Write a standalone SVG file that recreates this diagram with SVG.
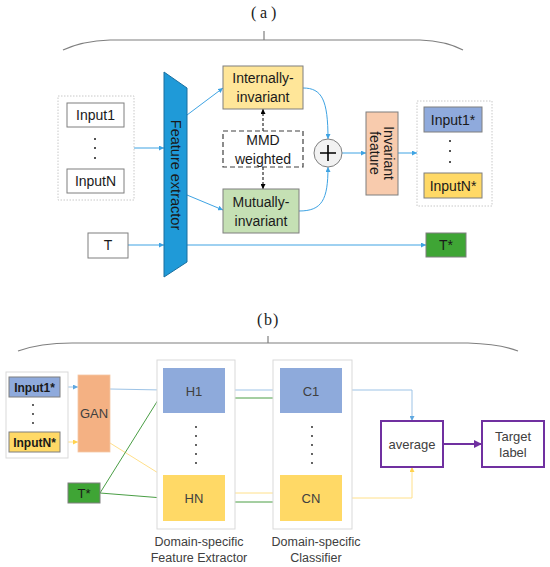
<svg xmlns="http://www.w3.org/2000/svg" width="550" height="567" viewBox="0 0 550 567">
<defs>
<marker id="mb" viewBox="0 0 6 6" refX="6" refY="3" markerWidth="5" markerHeight="5" markerUnits="userSpaceOnUse" orient="auto"><path d="M0,0 L6,3 L0,6 Z" fill="#3ea3e3"/></marker>
<marker id="mk" viewBox="0 0 6 6" refX="6" refY="3" markerWidth="5" markerHeight="5" markerUnits="userSpaceOnUse" orient="auto"><path d="M0,0 L6,3 L0,6 Z" fill="#000"/></marker>
<marker id="mlb" viewBox="0 0 6 6" refX="6" refY="3" markerWidth="5" markerHeight="5" markerUnits="userSpaceOnUse" orient="auto"><path d="M0,0 L6,3 L0,6 Z" fill="#5fa8e0"/></marker>
<marker id="my" viewBox="0 0 6 6" refX="6" refY="3" markerWidth="5" markerHeight="5" markerUnits="userSpaceOnUse" orient="auto"><path d="M0,0 L6,3 L0,6 Z" fill="#ffd24d"/></marker>
<marker id="mg" viewBox="0 0 6 6" refX="6" refY="3" markerWidth="5" markerHeight="5" markerUnits="userSpaceOnUse" orient="auto"><path d="M0,0 L6,3 L0,6 Z" fill="#3c9a3c"/></marker>
<marker id="mp" viewBox="0 0 6 6" refX="6" refY="3" markerWidth="8" markerHeight="8" markerUnits="userSpaceOnUse" orient="auto"><path d="M0,0 L6,3 L0,6 Z" fill="#7030a0"/></marker>
</defs>
<style>
text{font-family:"Liberation Sans","Noto Sans",sans-serif;fill:#1a1a1a;text-anchor:middle}
.t14{font-size:14px}
.t13{font-size:13px}
.t12{font-size:12px}
.ttl{font-family:"Liberation Serif",serif;font-size:16px;text-anchor:start}
.lbl{font-size:12.5px;fill:#404040}
.box{stroke:#7f7f7f;stroke-width:1}
.grp{fill:#fff;stroke:#d9d9d9;stroke-width:1}
.dgrp{fill:#fff;stroke:#c8c8c8;stroke-width:1;stroke-dasharray:1.5,1.5}
.ab{fill:none;stroke:#3ea3e3;stroke-width:1}
.lb{fill:none;stroke:#9dc3e6;stroke-width:1}
.ly{fill:none;stroke:#ffe08a;stroke-width:1}
.lg{fill:none;stroke:#4a9e45;stroke-width:1}
.brace{fill:none;stroke:#7f7f7f;stroke-width:1.2}
.dot{fill:#1a1a1a}
</style>

<g id="titles">
<text class="ttl" x="251 260 271" y="18">(a)</text>
<path class="brace" d="M63,50 Q82,41 110,40 L420,40 Q446,41 463,50"/>
<path class="brace" d="M264,31 L264,40"/>
<text class="ttl" x="257 264 273" y="325">(b)</text>
<path class="brace" d="M18,351 Q40,343 72,343 L468,343 Q500,344 518,351"/>
<path class="brace" d="M268,336 L268,343"/>
</g>

<g id="connectors">
<line class="ab" x1="134" y1="148" x2="164" y2="148" marker-end="url(#mb)"/>
<line class="ab" x1="128" y1="245" x2="164" y2="245" marker-end="url(#mb)"/>
<line class="ab" x1="187" y1="245" x2="426" y2="245" marker-end="url(#mb)"/>
<line class="ab" x1="187" y1="115" x2="223" y2="88" marker-end="url(#mb)"/>
<line class="ab" x1="187" y1="195" x2="223" y2="210" marker-end="url(#mb)"/>
<path class="ab" d="M303,88 C322,88 328,100 328,139" marker-end="url(#mb)"/>
<path class="ab" d="M299,211 C322,211 328,200 328,167" marker-end="url(#mb)"/>
<line class="ab" x1="342" y1="153" x2="366" y2="153" marker-end="url(#mb)"/>
<line class="ab" x1="398" y1="153" x2="417" y2="153" marker-end="url(#mb)"/>
<line x1="263" y1="131" x2="263" y2="109" stroke="#000" stroke-width="1" stroke-dasharray="3,2" marker-end="url(#mk)"/>
<line x1="263" y1="167" x2="263" y2="189" stroke="#000" stroke-width="1" stroke-dasharray="3,2" marker-end="url(#mk)"/>

<line class="lb" x1="60" y1="387" x2="78" y2="387" marker-end="url(#mlb)"/>
<line class="ly" x1="60" y1="442" x2="78" y2="442" marker-end="url(#my)"/>
<line class="lb" x1="110" y1="389" x2="163" y2="390" marker-end="url(#mlb)"/>
<line class="ly" x1="110" y1="443" x2="163" y2="476" marker-end="url(#my)"/>
<line class="lg" x1="100" y1="493" x2="163" y2="392" marker-end="url(#mg)"/>
<line class="lg" x1="100" y1="493" x2="163" y2="498" marker-end="url(#mg)"/>
<line class="lb" x1="225" y1="390" x2="280" y2="390" marker-end="url(#mlb)"/>
<line class="lg" x1="225" y1="398" x2="280" y2="398" marker-end="url(#mg)"/>
<line class="ly" x1="225" y1="493" x2="280" y2="493" marker-end="url(#my)"/>
<line class="lg" x1="225" y1="502" x2="280" y2="502" marker-end="url(#mg)"/>
<path class="lb" d="M342,390 L412,390 L412,421" marker-end="url(#mlb)"/>
<path class="ly" d="M342,498 L412,498 L412,467" marker-end="url(#my)"/>
<line x1="443" y1="444" x2="482" y2="444" stroke="#7030a0" stroke-width="2" marker-end="url(#mp)"/>
</g>

<g id="inputs-a">
<rect class="dgrp" x="58" y="96" width="76" height="104"/>
<rect class="box" x="67" y="103" width="57" height="24" fill="#fff"/>
<text class="t14" x="95.5" y="120">Input1</text>
<circle class="dot" cx="95" cy="139" r="1"/><circle class="dot" cx="95" cy="148" r="1"/><circle class="dot" cx="95" cy="158" r="1"/>
<rect class="box" x="67" y="169" width="57" height="24" fill="#fff"/>
<text class="t14" x="95.5" y="186">InputN</text>
</g>
<g id="T">
<rect class="box" x="88" y="233" width="40" height="25" fill="#fff"/>
<text class="t14" x="108" y="250">T</text>
</g>
<g id="feature-extractor">
<path d="M164,72 L187,88 L187,262 L164,277 Z" fill="#1f9ad8" stroke="#1a6f9f" stroke-width="1"/>
<text transform="translate(176,175) rotate(90)" x="0" y="5" style="font-size:14.5px">Feature extractor</text>
</g>
<g id="internally">
<rect class="box" x="223" y="66" width="80" height="43" fill="#ffe699"/>
<text class="t14" x="263" y="83">Internally-</text>
<text class="t14" x="263" y="102">invariant</text>
</g>
<g id="mmd">
<rect x="223" y="131" width="80" height="36" fill="#fff" stroke="#404040" stroke-width="1.2" stroke-dasharray="5,3"/>
<text class="t14" x="263" y="145">MMD</text>
<text class="t14" x="263" y="164">weighted</text>
</g>
<g id="mutually">
<rect class="box" x="223" y="189" width="76" height="44" fill="#c5e0b4"/>
<text class="t14" x="261" y="207">Mutually-</text>
<text class="t14" x="261" y="226">invariant</text>
</g>
<g id="plus">
<circle cx="328" cy="153" r="14" fill="#f2f2f2" stroke="#7f7f7f" stroke-width="1"/>
<path d="M320,153 L336,153 M328,145 L328,161" stroke="#000" stroke-width="1.6"/>
</g>
<g id="invariant-feature">
<rect class="box" x="366" y="112" width="32" height="83" fill="#f8cbad"/>
<g transform="translate(382,153) rotate(90)">
<text class="t14" x="0" y="-2">Invariant</text>
<text class="t14" x="0" y="12">feature</text>
</g>
</g>
<g id="outputs-a">
<rect class="dgrp" x="417" y="101" width="75" height="105"/>
<rect class="box" x="424" y="107" width="58" height="25" fill="#8faadc"/>
<text class="t14" x="453" y="124.5">Input1*</text>
<circle class="dot" cx="450" cy="141" r="1"/><circle class="dot" cx="450" cy="151" r="1"/><circle class="dot" cx="450" cy="162" r="1"/>
<rect class="box" x="424" y="173" width="58" height="25" fill="#ffd966"/>
<text class="t14" x="453" y="190.5">InputN*</text>
</g>
<g id="Tstar-a">
<rect class="box" x="426" y="233" width="40" height="24" fill="#3fa535"/>
<text class="t14" x="446" y="250">T*</text>
</g>

<g id="inputs-b">
<rect class="grp" x="6" y="372" width="62" height="86"/>
<rect class="box" x="9" y="377" width="51" height="20" fill="#8faadc"/>
<text class="t12" x="34.5" y="391.5" font-weight="bold">Input1*</text>
<circle class="dot" cx="33" cy="405" r="0.9"/><circle class="dot" cx="33" cy="414" r="0.9"/><circle class="dot" cx="33" cy="423" r="0.9"/>
<rect class="box" x="9" y="432" width="51" height="20" fill="#ffd966"/>
<text class="t12" x="34.5" y="446.5" font-weight="bold">InputN*</text>
</g>
<g id="gan">
<rect x="78" y="375" width="32" height="77" fill="#f4b183" stroke="#f4c7a5" stroke-width="0.8"/>
<text class="t13" x="94" y="418" style="fill:#404040">GAN</text>
</g>
<g id="Tstar-b">
<rect class="box" x="68" y="483" width="32" height="20" fill="#3fa535"/>
<text class="t13" x="84" y="497.5">T*</text>
</g>
<g id="feature-extractors">
<rect class="grp" x="157" y="360" width="78" height="169"/>
<rect x="163" y="368" width="62" height="45" fill="#8eaadb"/>
<text class="t13" x="194" y="395.5" style="fill:#404040">H1</text>
<circle class="dot" cx="196" cy="427" r="0.9"/><circle class="dot" cx="196" cy="436" r="0.9"/><circle class="dot" cx="196" cy="445" r="0.9"/><circle class="dot" cx="196" cy="454" r="0.9"/><circle class="dot" cx="196" cy="463" r="0.9"/>
<rect x="163" y="475" width="62" height="46" fill="#ffd966"/>
<text class="t13" x="194" y="502.5" style="fill:#404040">HN</text>
<text class="lbl" x="199" y="546">Domain-specific</text>
<text class="lbl" x="199" y="562">Feature Extractor</text>
</g>
<g id="classifiers">
<rect class="grp" x="273" y="360" width="79" height="169"/>
<rect x="280" y="368" width="62" height="45" fill="#8eaadb"/>
<text class="t13" x="311" y="395.5" style="fill:#404040">C1</text>
<circle class="dot" cx="312" cy="427" r="0.9"/><circle class="dot" cx="312" cy="436" r="0.9"/><circle class="dot" cx="312" cy="445" r="0.9"/><circle class="dot" cx="312" cy="454" r="0.9"/><circle class="dot" cx="312" cy="463" r="0.9"/>
<rect x="280" y="475" width="62" height="46" fill="#ffd966"/>
<text class="t13" x="311" y="502.5" style="fill:#404040">CN</text>
<text class="lbl" x="316" y="546">Domain-specific</text>
<text class="lbl" x="316" y="562">Classifier</text>
</g>
<g id="average">
<rect x="381" y="421" width="62" height="46" fill="#fff" stroke="#7030a0" stroke-width="2"/>
<text class="t13" x="412" y="448.5" style="fill:#404040">average</text>
</g>
<g id="target-label">
<rect x="482" y="421" width="62" height="46" fill="#fff" stroke="#7030a0" stroke-width="2"/>
<text class="t13" x="513" y="441" style="fill:#404040">Target</text>
<text class="t13" x="513" y="457" style="fill:#404040">label</text>
</g>
</svg>
